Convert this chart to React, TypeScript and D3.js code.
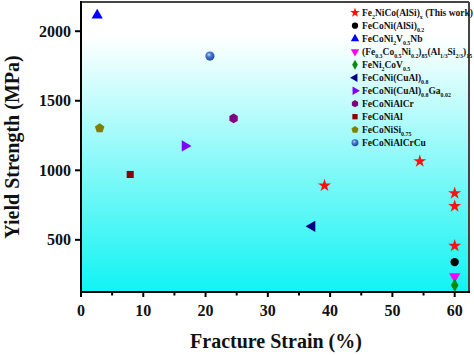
import React from "react";
import * as d3 from "d3";

const W = 474, H = 355;
const margin = { left: 81, right: 5, top: 2, bottom: 63 };

const xTicks = [0, 10, 20, 30, 40, 50, 60];
const xMinorTicks = [5, 15, 25, 35, 45, 55];
const yTicks = [500, 1000, 1500, 2000];

const seriesNames = [
  "Fe_{2}NiCo(AlSi)_{x} (This work)",
  "FeCoNi(AlSi)_{0.2}",
  "FeCoNi_{2}V_{0.5}Nb",
  "(Fe_{0.3}Co_{0.5}Ni_{0.2})_{85}(Al_{1/3}Si_{2/3})_{15}",
  "FeNi_{2}CoV_{0.5}",
  "FeCoNi(CuAl)_{0.8}",
  "FeCoNi(CuAl)_{0.8}Ga_{0.02}",
  "FeCoNiAlCr",
  "FeCoNiAl",
  "FeCoNiSi_{0.75}",
  "FeCoNiAlCrCu",
];
const seriesColors = ["#ff1010", "#000000", "#0000ff", "#ff00ff", "#0a8a0a", "#000080", "#8000ff", "#800080", "#8b0000", "#808000", "#3a6cc0"];
const seriesShapes = ["star", "circle", "triUp", "triDown", "diamond", "triLeft", "triRight", "hexagon", "square", "pentagon", "sphere"];

const thisWorkStrain = [39.1, 54.4, 60, 60, 60];
const thisWorkYield = [890, 1065, 835, 742, 457];
const otherStrain = [60, 2.6, 60, 60, 37.1, 16.7, 24.5, 7.9, 3.0, 20.7];
const otherYield = [340, 2115, 237, 173, 597, 1175, 1373, 970, 1303, 1821];

const x = d3.scaleLinear().domain([0, 62.3]).range([margin.left, W - margin.right]);
const y = d3.scaleLinear().domain([125, 2210]).range([H - margin.bottom, margin.top]);

function polygon(n: number, r: number, rot: number) {
  const pts: [number, number][] = [];
  for (let i = 0; i < n; i++) {
    const a = rot + (i * 2 * Math.PI) / n;
    pts.push([r * Math.cos(a), r * Math.sin(a)]);
  }
  return d3.line()(pts)! + "Z";
}

function Marker({ shape, color, cx, cy, s }: { shape: string; color: string; cx: number; cy: number; s: number }) {
  const t = `translate(${cx},${cy})`;
  const sym = (type: any, size: number, rot = 0) => (
    <path d={d3.symbol().type(type).size(size * s * s)()!} transform={`${t} rotate(${rot})`} fill={color} />
  );
  switch (shape) {
    case "star":
      return sym(d3.symbolStar, 52);
    case "circle":
      return sym(d3.symbolCircle, 55);
    case "triUp":
      return sym(d3.symbolTriangle, 55);
    case "triDown":
      return sym(d3.symbolTriangle, 55, 180);
    case "triLeft":
      return sym(d3.symbolTriangle, 55, -90);
    case "triRight":
      return sym(d3.symbolTriangle, 55, 90);
    case "diamond":
      return sym(d3.symbolDiamond, 50);
    case "square":
      return sym(d3.symbolSquare, 50);
    case "hexagon":
      return <path d={polygon(6, 4.8 * s, Math.PI / 6)} transform={t} fill={color} />;
    case "pentagon":
      return <path d={polygon(5, 5 * s, -Math.PI / 2)} transform={t} fill={color} />;
    case "sphere":
      return <circle cx={cx} cy={cy} r={4.6 * s} fill="url(#sphereGrad)" />;
  }
  return null;
}

function SubText({ text, x0, y0, size }: { text: string; x0: number; y0: number; size: number }) {
  const parts: { t: string; sub: boolean }[] = [];
  const re = /_\{([^}]*)\}/g;
  let last = 0;
  let m: RegExpExecArray | null;
  while ((m = re.exec(text))) {
    if (m.index > last) parts.push({ t: text.slice(last, m.index), sub: false });
    parts.push({ t: m[1], sub: true });
    last = m.index + m[0].length;
  }
  if (last < text.length) parts.push({ t: text.slice(last), sub: false });
  const off = size * 0.3;
  let cur = 0;
  return (
    <text x={x0} y={y0} fontSize={size} fontFamily="Liberation Serif, Times New Roman, serif" fontWeight="bold" fill="#111">
      {parts.map((p, i) => {
        const dy = p.sub ? off - cur : -cur;
        cur = p.sub ? off : 0;
        return (
          <tspan key={i} dy={dy} fontSize={p.sub ? size * 0.62 : size}>
            {p.t}
          </tspan>
        );
      })}
    </text>
  );
}

export default function App() {
  const x0 = margin.left, x1 = W - margin.right, y0 = H - margin.bottom, y1 = margin.top;
  const font = "Liberation Serif, Times New Roman, serif";
  const legendY0 = 12.7, legendStep = 13;
  return (
    <svg width={W} height={H} style={{ position: "absolute", left: 0, top: 0 }}>
      <defs>
        <linearGradient id="bg" x1="0" y1="0" x2="0" y2="1">
          <stop offset="0" stopColor="#ffffff" />
          <stop offset="0.12" stopColor="#ffffff" />
          <stop offset="1" stopColor="#12f3f3" />
        </linearGradient>
        <radialGradient id="sphereGrad" cx="0.4" cy="0.35" r="0.65">
          <stop offset="0" stopColor="#c8dcff" />
          <stop offset="0.35" stopColor="#4a7ed0" />
          <stop offset="1" stopColor="#1f4a9a" />
        </radialGradient>
      </defs>
      <rect x={0} y={0} width={W} height={H} fill="#fff" />
      <rect x={x0} y={y1} width={x1 - x0} height={y0 - y1} fill="url(#bg)" />
      {/* frame top/right */}
      <line x1={x0} x2={x1} y1={y1} y2={y1} stroke="#444" strokeWidth={2} />
      <line x1={x1} x2={x1} y1={y1} y2={y0} stroke="#444" strokeWidth={2} />
      {/* axes */}
      <line x1={x0} x2={x1 + 1} y1={y0} y2={y0} stroke="#000" strokeWidth={2} />
      <line x1={x0} x2={x0} y1={y1 - 1} y2={y0 + 1} stroke="#000" strokeWidth={2} />
      {xTicks.map((v) => (
        <g key={v}>
          <line x1={x(v)} x2={x(v)} y1={y0} y2={y0 + 5} stroke="#000" strokeWidth={2} />
          <text x={x(v)} y={y0 + 24} textAnchor="middle" fontSize={16} fontWeight="bold" fontFamily={font} fill="#111">
            {v}
          </text>
        </g>
      ))}
      {xMinorTicks.map((v) => (
        <line key={v} x1={x(v)} x2={x(v)} y1={y0} y2={y0 + 3.5} stroke="#000" strokeWidth={2} />
      ))}
      {yTicks.map((v) => (
        <g key={v}>
          <line x1={x0 - 6} x2={x0} y1={y(v)} y2={y(v)} stroke="#000" strokeWidth={2} />
          <text x={x0 - 10} y={y(v) + 5.5} textAnchor="end" fontSize={16} fontWeight="bold" fontFamily={font} fill="#111">
            {v}
          </text>
        </g>
      ))}
      <text x={276} y={348} textAnchor="middle" fontSize={20} fontWeight="bold" fontFamily={font} fill="#111">
        Fracture Strain (%)
      </text>
      <text transform={`translate(19,${(y0 + y1) / 2}) rotate(-90)`} textAnchor="middle" fontSize={20} fontWeight="bold" fontFamily={font} fill="#111">
        Yield Strength (MPa)
      </text>
      {/* data */}
      {thisWorkStrain.map((v, i) => (
        <Marker key={"tw" + i} shape={seriesShapes[0]} color={seriesColors[0]} cx={x(v)} cy={y(thisWorkYield[i])} s={1} />
      ))}
      {otherStrain.map((v, i) => (
        <Marker key={"o" + i} shape={seriesShapes[i + 1]} color={seriesColors[i + 1]} cx={x(v)} cy={y(otherYield[i])} s={1} />
      ))}
      {/* legend */}
      {seriesNames.map((n, i) => (
        <g key={n}>
          <Marker shape={seriesShapes[i]} color={seriesColors[i]} cx={355} cy={legendY0 + i * legendStep} s={0.75} />
          <SubText text={n} x0={362} y0={legendY0 + i * legendStep + 3.2} size={9.5} />
        </g>
      ))}
    </svg>
  );
}
